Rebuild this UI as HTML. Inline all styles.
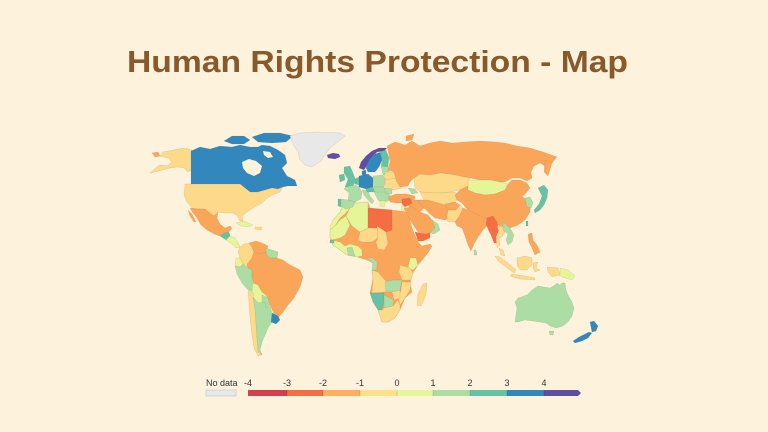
<!DOCTYPE html>
<html><head><meta charset="utf-8"><style>
html,body{margin:0;padding:0;background:#fdf2dc;}
svg{display:block;}
</style></head><body>
<svg width="768" height="432" viewBox="0 0 768 432" xmlns="http://www.w3.org/2000/svg">
<rect width="768" height="432" fill="#fdf2dc"/>
<text x="127" y="72" textLength="501" lengthAdjust="spacingAndGlyphs" font-family="Liberation Sans, sans-serif" font-weight="bold" font-size="31" fill="#87592b">Human Rights Protection - Map</text>

<g stroke="#8a6a40" stroke-opacity="0.3" stroke-width="0.4" stroke-linejoin="round">
<!-- Africa (drawn first so Europe overlays) -->
<polygon fill="#f9a65a" points="343,205 347,202 358,203 368,202 370,208 380,209 392,210 400,211 407,212 410,220 412,228 418,242 422,246 430,244 432,246 428,253 418,265 413,273 410,283 412,292 405,298 400,310 395,318 388,322 382,322 378,310 373,302 370,293 373,278 372,270 373,263 367,260 357,257 347,255 340,250 333,245 330,238 330,230 333,220 340,212"/>
<polygon fill="#e6f598" points="343,205 347,203 350,208 346,213 340,218 335,226 330,230 330,226 333,220 340,212"/>
<polygon fill="#e6f598" points="347,203 358,203 368,202 368,210 368,228 360,232 352,226 346,216 350,208"/>
<polygon fill="#e6f598" points="330,230 335,226 340,220 346,216 350,225 345,235 340,238 332,240 330,238"/>
<polygon fill="#fdd98a" points="360,232 368,228 377,226 378,238 372,242 362,242 358,240"/>
<polygon fill="#f46d43" points="368,208 380,209 392,210 392,230 386,232 378,228 368,228"/>
<polygon fill="#fdd98a" points="377,226 386,232 388,244 384,250 378,249 376,242 378,238"/>
<polygon fill="#e6f598" points="333,245 340,250 347,255 357,257 362,256 362,250 358,246 350,244 345,246 340,242 332,240"/>
<polygon fill="#abdda4" points="347,248 352,247 355,256 348,255"/>
<polygon fill="#66c2a5" points="330,240 334,240 334,243 330,243"/>
<polygon fill="#abdda4" points="367,258 373,258 377,262 377,270 372,270 373,263"/>
<polygon fill="#e6f598" points="410,258 416,258 418,265 413,270 408,268"/>
<polygon fill="#fdd98a" points="372,270 378,272 383,278 387,282 386,292 372,293 373,278"/>
<polygon fill="#fdd98a" points="400,265 410,268 413,273 411,280 402,280 399,272"/>
<polygon fill="#abdda4" points="385,282 393,280 402,280 400,290 392,292 386,292"/>
<polygon fill="#fdd98a" points="402,282 411,282 410,290 405,298 400,305 398,298 401,290"/>
<polygon fill="#fdd98a" points="392,292 400,290 400,298 394,300"/>
<polygon fill="#66c2a5" points="370,293 384,293 384,300 382,310 378,310 373,302"/>
<polygon fill="#abdda4" points="384,295 394,300 393,306 384,308 384,300"/>
<polygon fill="#fdd98a" points="378,310 382,310 384,308 393,306 398,300 400,305 400,310 395,318 388,322 382,322"/>
<polygon fill="#fdd98a" points="423,284 427,283 426,295 421,306 417,305 418,294"/>

<!-- North America -->
<polygon fill="#fdd98a" points="150,173 157,167 160,165 167,166 172,162 168,158 160,156 163,152 173,150 183,148 192,150 192,170 188,172 184,168 178,167 170,168 162,170 155,172"/>
<polygon fill="#f9a65a" points="152,153 158,152 160,156 155,157"/>
<polygon fill="#3288bd" points="191,151 200,147 210,149 220,146 232,147 240,145 250,147 258,147 262,145 270,146 278,150 285,155 287,163 282,168 287,176 295,180 297,186 288,186 283,187 278,189 272,188 265,190 258,192 250,192 245,188 240,184 191,184"/>
<polygon fill="#3288bd" points="224,141 232,136 244,136 250,140 244,144 232,144"/>
<polygon fill="#3288bd" points="252,137 264,133 280,133 293,136 286,142 272,143 258,142"/>
<polygon fill="#fdf2dc" stroke="none" points="242,162 249,159 256,161 262,166 260,173 254,176 247,173 243,168"/>
<polygon fill="#fdf2dc" stroke="none" points="263,151 270,152 273,157 268,158 264,155"/>
<polygon fill="#e8e8e8" points="290,136 300,133 318,132 340,133 345,136 338,142 330,148 325,155 320,162 312,167 305,165 300,160 298,152 294,146"/>
<polygon fill="#fdd98a" points="185,184 240,184 245,188 250,192 258,192 265,190 272,188 278,189 283,187 280,192 272,195 266,199 262,203 255,207 250,210 246,213 242,216 243,221 240,221 237,215 232,213 225,213 218,212 214,216 210,213 205,209 198,209 192,208 187,202 184,195"/>
<polygon fill="#f9a65a" points="190,208 198,209 205,209 210,213 214,216 218,212 217,218 220,224 225,228 230,226 232,228 229,232 224,233 220,236 214,234 207,230 201,225 197,218 193,213"/>
<polygon fill="#f9a65a" points="188,210 192,214 196,222 194,222 190,216"/>
<polygon fill="#66c2a5" points="220,236 224,233 229,232 230,236 226,240"/>
<polygon fill="#e6f598" points="226,240 230,236 235,238 238,242 240,247 236,248 232,244"/>
<polygon fill="#e6f598" points="236,223 244,221 253,225 248,227 241,226"/>
<polygon fill="#fdd98a" points="255,227 262,227 261,230 255,229"/>
<!-- South America -->
<polygon fill="#fdd98a" points="240,247 244,244 249,243 252,247 254,252 252,258 253,265 248,268 243,264 240,258 238,252"/>
<polygon fill="#f9a65a" points="249,243 256,241 262,243 268,246 266,252 260,254 254,252 252,247"/>
<polygon fill="#abdda4" points="266,248 272,250 278,252 277,258 270,258 266,254"/>
<polygon fill="#e6f598" points="236,258 240,258 243,264 240,267 235,265"/>
<polygon fill="#abdda4" points="240,267 243,264 248,268 252,270 252,278 255,285 253,292 248,290 242,283 237,274 235,266"/>
<polygon fill="#f9a65a" points="247,264 252,258 254,252 260,254 266,252 266,254 270,258 277,258 283,260 290,265 300,270 303,277 300,287 294,298 288,305 283,312 278,318 274,314 270,305 265,298 262,292 258,285 255,285 252,278 252,270 248,268"/>
<polygon fill="#e6f598" points="253,283 258,285 262,292 267,296 265,302 258,303 253,297 252,290"/>
<polygon fill="#abdda4" points="262,295 268,298 270,305 266,308 262,302"/>
<polygon fill="#fdd98a" points="248,291 253,293 254,300 256,315 257,330 258,345 262,355 258,356 254,348 252,335 250,318 249,302"/>
<polygon fill="#abdda4" points="253,297 258,303 265,302 266,308 270,306 272,313 275,318 272,322 268,328 265,335 262,342 260,350 262,355 258,352 257,340 256,325 255,310"/>
<polygon fill="#3288bd" points="272,313 278,316 280,320 276,324 271,322"/>
<!-- Europe -->
<polygon fill="#5e4fa2" points="327,155 333,153 339,154 340,157 335,159 328,158"/>
<polygon fill="#5e4fa2" points="359,168 361,162 366,156 372,151 379,148 387,148 384,151 377,152 372,157 368,164 364,170"/>
<polygon fill="#3288bd" points="366,168 369,160 375,154 381,152 382,160 379,167 375,172 368,172"/>
<polygon fill="#66c2a5" points="380,152 386,150 389,158 388,167 381,168 382,160"/>
<polygon fill="#66c2a5" points="344,167 350,166 353,173 356,181 352,187 345,187 348,179 344,173"/>
<polygon fill="#66c2a5" points="339,175 344,174 345,180 340,182"/>
<polygon fill="#3288bd" points="362,171 366,170 366,175 362,175"/>
<polygon fill="#3288bd" points="359,176 368,174 373,178 373,187 366,189 359,187 358,180"/>
<polygon fill="#66c2a5" points="355,179 359,177 359,185 355,184"/>
<polygon fill="#abdda4" points="346,187 355,185 359,187 362,192 361,199 355,202 348,200 349,193 344,189"/>
<polygon fill="#abdda4" points="341,199 348,200 355,202 353,207 346,209 340,206"/>
<polygon fill="#66c2a5" points="338,199 341,199 341,207 338,206"/>
<polygon fill="#abdda4" points="362,190 368,190 370,196 374,201 372,204 368,200 364,195"/>
<polygon fill="#66c2a5" points="366,189 373,187 378,189 374,192 367,192"/>
<polygon fill="#abdda4" points="373,176 383,175 386,180 384,187 374,187 373,180"/>
<polygon fill="#abdda4" points="381,166 388,167 390,174 383,175"/>
<polygon fill="#abdda4" points="373,187 384,187 386,192 378,193 374,191"/>
<polygon fill="#abdda4" points="374,192 386,192 392,197 388,201 382,203 378,200"/>
<polygon fill="#e6f598" points="380,201 386,201 384,207 380,206"/>
<polygon fill="#fdd98a" points="385,172 394,172 396,178 388,180 384,178"/>
<polygon fill="#fdd98a" points="385,180 396,178 404,182 402,188 394,190 386,190"/>
<polygon fill="#abdda4" points="384,188 392,189 392,194 386,194"/>
<polygon fill="#f9a65a" points="388,197 396,194 406,194 415,196 414,202 404,203 396,203 390,202"/>
<!-- Russia / Asia -->
<polygon fill="#f9a65a" points="387,146 395,142 405,145 412,141 420,146 430,143 440,141 452,143 465,142 480,141 495,142 505,143 517,146 530,148 543,152 557,157 552,163 545,166 540,163 534,166 531,172 532,178 527,181 520,178 512,178 505,182 498,182 490,180 480,180 470,178 460,176 450,174 440,173 430,175 420,174 414,178 410,182 408,186 400,187 396,180 394,172 388,170 390,162 388,150"/>
<polygon fill="#f9a65a" points="545,160 552,163 548,176 544,172"/>
<polygon fill="#f9a65a" points="406,136 414,134 412,140 406,141"/>
<polygon fill="#fdd98a" points="414,178 420,174 430,175 440,173 450,174 460,176 470,178 468,186 460,190 450,192 440,193 430,194 420,192 415,188"/>
<polygon fill="#fdd98a" points="420,192 440,193 455,192 460,196 455,202 445,205 438,203 430,203 424,200"/>
<polygon fill="#abdda4" points="408,188 415,189 418,193 412,194"/>
<polygon fill="#e6f598" points="468,180 480,180 490,180 500,182 508,184 505,190 495,194 485,195 475,193 468,190"/>
<polygon fill="#f9a65a" points="460,190 468,186 468,190 475,193 485,195 495,194 505,190 508,184 512,180 520,180 527,183 530,188 526,193 522,197 527,199 530,205 530,212 525,220 518,225 510,228 500,226 493,222 487,220 480,218 472,213 466,208 462,203 457,200 455,195"/>
<polygon fill="#abdda4" points="525,198 530,197 533,203 531,208 527,207"/>
<polygon fill="#66c2a5" points="538,188 544,185 548,190 547,198 544,205 540,210 535,213 534,210 539,204 542,196 540,192"/>
<polygon fill="#66c2a5" points="526,221 528,221 528,226 526,226"/>
<polygon fill="#f9a65a" points="418,200 428,200 438,203 445,205 448,210 452,218 445,220 435,218 430,214 424,208 420,204"/>
<polygon fill="#f9a65a" points="408,200 418,200 420,204 424,208 420,212 414,210 408,206"/>
<polygon fill="#f46d43" points="402,199 410,198 412,203 405,207 402,204"/>
<polygon fill="#e6f598" points="402,205 405,207 404,211 401,210"/>
<polygon fill="#f9a65a" points="404,208 412,207 420,212 428,215 432,220 438,225 435,232 425,234 418,232 414,226 409,218"/>
<polygon fill="#f46d43" points="415,232 425,234 430,233 430,238 423,241 418,241"/>
<polygon fill="#abdda4" points="432,220 438,224 440,230 434,234 430,233 435,228"/>
<polygon fill="#f9a65a" points="445,204 455,202 460,205 456,210 450,212 447,209"/>
<polygon fill="#fdd98a" points="448,210 456,210 460,205 463,208 460,215 455,222 448,222 447,217"/>
<polygon fill="#f9a65a" points="455,222 460,215 463,208 468,210 472,212 478,215 485,218 490,218 492,222 487,226 483,230 478,237 474,244 471,251 468,245 465,236 462,228 457,226"/>
<polygon fill="#abdda4" points="474,250 476,250 477,255 474,255"/>
<polygon fill="#f46d43" points="487,218 493,216 497,222 499,230 496,237 497,243 494,243 491,235 488,229 486,224"/>
<polygon fill="#fdd98a" points="497,226 503,227 505,232 502,237 499,238 500,245 497,248 496,240 499,232"/>
<polygon fill="#abdda4" points="503,222 510,228 514,235 512,242 508,245 506,240 508,234 503,230"/>
<polygon fill="#f9a65a" points="528,234 532,233 533,240 537,245 540,252 535,255 532,248 529,242"/>
<polygon fill="#fdd98a" points="499,248 503,250 505,256 501,255"/>
<polygon fill="#fdd98a" points="495,256 500,257 508,263 516,270 514,273 506,267 498,261"/>
<polygon fill="#fdd98a" points="512,274 525,276 535,278 535,280 520,279 510,276"/>
<polygon fill="#fdd98a" points="517,258 525,256 532,258 532,265 527,270 520,270 517,265"/>
<polygon fill="#fdd98a" points="533,263 538,262 536,268 540,270 535,272 533,268"/>
<polygon fill="#fdd98a" points="547,267 558,268 560,275 552,277 548,272"/>
<polygon fill="#e6f598" points="560,268 568,270 575,276 572,280 562,277 560,275"/>
<!-- Oceania -->
<polygon fill="#abdda4" points="518,298 527,295 532,290 538,286 544,287 550,288 555,285 557,283 560,285 562,283 565,283 566,290 568,295 572,302 574,308 572,316 568,322 563,326 556,328 550,326 546,323 540,322 533,321 525,320 518,322 515,322 516,315 517,308 515,302"/>
<polygon fill="#abdda4" points="549,331 554,331 553,335 550,335"/>
<polygon fill="#3288bd" points="590,322 594,321 598,326 596,331 592,332 591,327"/>
<polygon fill="#3288bd" points="589,332 592,333 588,338 582,341 575,343 573,341 579,337 585,334"/>
</g>

<!-- Legend -->
<g font-family="Liberation Sans, sans-serif" font-size="9" fill="#333">
<text x="206" y="386">No data</text>
<text x="248" y="386" text-anchor="middle">-4</text>
<text x="287" y="386" text-anchor="middle">-3</text>
<text x="323" y="386" text-anchor="middle">-2</text>
<text x="360" y="386" text-anchor="middle">-1</text>
<text x="397" y="386" text-anchor="middle">0</text>
<text x="433" y="386" text-anchor="middle">1</text>
<text x="470" y="386" text-anchor="middle">2</text>
<text x="507" y="386" text-anchor="middle">3</text>
<text x="544" y="386" text-anchor="middle">4</text>
</g>
<rect x="206" y="390" width="30" height="6" fill="#e8e8e8" stroke="#bbbbbb" stroke-width="0.5"/>
<rect x="248" y="390" width="39" height="6" fill="#d53e4f"/>
<rect x="287" y="390" width="36" height="6" fill="#f46d43"/>
<rect x="323" y="390" width="37" height="6" fill="#fdae61"/>
<rect x="360" y="390" width="37" height="6" fill="#fee08b"/>
<rect x="397" y="390" width="36" height="6" fill="#e6f598"/>
<rect x="433" y="390" width="37" height="6" fill="#abdda4"/>
<rect x="470" y="390" width="37" height="6" fill="#66c2a5"/>
<rect x="507" y="390" width="37" height="6" fill="#3288bd"/>
<polygon points="544,390 578,390 581,393 578,396 544,396" fill="#5e4fa2"/>
<g stroke="#000" stroke-opacity="0.2" stroke-width="0.6">
<line x1="287" y1="390" x2="287" y2="396"/><line x1="323" y1="390" x2="323" y2="396"/>
<line x1="360" y1="390" x2="360" y2="396"/><line x1="397" y1="390" x2="397" y2="396"/>
<line x1="433" y1="390" x2="433" y2="396"/><line x1="470" y1="390" x2="470" y2="396"/>
<line x1="507" y1="390" x2="507" y2="396"/><line x1="544" y1="390" x2="544" y2="396"/>
</g>
</svg>
</body></html>
